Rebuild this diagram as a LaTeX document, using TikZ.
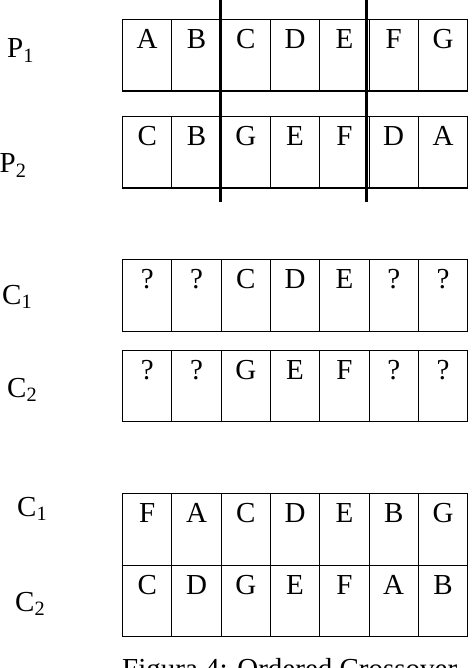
\documentclass[tikz,border=0pt]{standalone}
\usepackage{fontspec}
\setmainfont{Liberation Serif}

\begin{document}
\begin{tikzpicture}[x=1pt,y=-1pt,
	cell/.style={draw, line width=1.1pt, inner sep=0pt, anchor=north west,
		minimum width=49.3pt, text height=29pt, text depth=42.5pt,
		font=\fontsize{29}{34}\selectfont},
	lbl/.style={anchor=base west, inner sep=0pt, font=\fontsize{29}{34}\selectfont},
	cutline/.style={line width=3.3pt}]

	\useasboundingbox (0,0) rectangle (474,668);
	\clip (0,0) rectangle (474,668);

	% the six chromosomes, one row of cells each
	\foreach \row/\top/\ltrs in {p1/19/{A,B,C,D,E,F,G}, p2/116/{C,B,G,E,F,D,A},
			ca1/259/{?,?,C,D,E,?,?}, ca2/349.5/{?,?,G,E,F,?,?},
			cb1/493/{F,A,C,D,E,B,G}, cb2/564.5/{C,D,G,E,F,A,B}}
		\foreach \ltr [count=\i] in \ltrs
			\node[cell] (\row-\i) at ({122+49.3*(\i-1)},\top) {\ltr};

	% cut points
	\draw[cutline] ([yshift=19pt]p1-3.north west) -- ([yshift=-13pt]p2-3.south west);
	\draw[cutline] ([xshift=-2pt,yshift=19pt]p1-6.north west) -- ([xshift=-2pt,yshift=-13pt]p2-6.south west);

	\node[lbl] (lblp1) at (7,58) {P\textsubscript{1}};
	\node[lbl] (lblp2) at (-0.5,173) {P\textsubscript{2}};
	\node[lbl] (lblca1) at (2,304) {C\textsubscript{1}};
	\node[lbl] (lblca2) at (7,397) {C\textsubscript{2}};
	\node[lbl] (lblcb1) at (17,516) {C\textsubscript{1}};
	\node[lbl] (lblcb2) at (15,611) {C\textsubscript{2}};

	\node[lbl] (caption) at (122,678) {Figura 4: Ordered Crossover};

\end{tikzpicture}
\end{document}
